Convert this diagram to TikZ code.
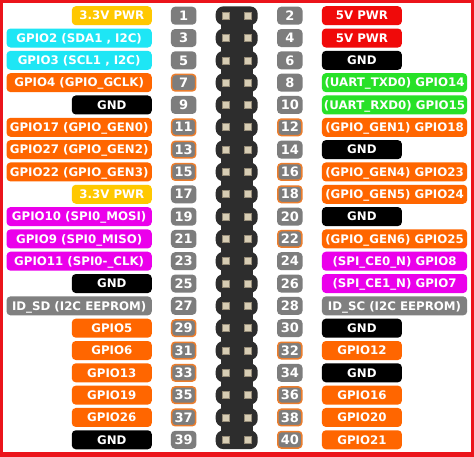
\documentclass[tikz,border=0pt]{standalone}
\usepackage{fontspec}
\setmainfont{DejaVu Sans}
\definecolor{cyel}{RGB}{255,200,0}
\definecolor{cred}{RGB}{240,10,10}
\definecolor{ccyan}{RGB}{30,230,245}
\definecolor{corange}{RGB}{255,102,0}
\definecolor{cgreen}{RGB}{40,225,40}
\definecolor{cmag}{RGB}{235,0,235}
\definecolor{cgray}{RGB}{128,128,128}
\definecolor{cnum}{RGB}{125,125,125}
\definecolor{cbord}{RGB}{235,125,45}
\definecolor{chdr}{RGB}{45,45,45}
\definecolor{cpin}{RGB}{215,205,180}
\definecolor{cpinb}{RGB}{150,140,120}
\definecolor{cframe}{RGB}{235,20,27}
\begin{document}
\begin{tikzpicture}[x=1pt,y=-1pt,
  lab/.style={rounded corners=4pt, minimum height=19pt, inner sep=0pt, text=white,
    font=\fontsize{11.8}{12}\selectfont\bfseries, text height=8.6pt, text depth=0pt},
  num/.style={rounded corners=3.5pt, minimum width=24pt, minimum height=16.5pt, inner sep=0pt,
    line width=1.5pt, fill=cnum, text=white,
    font=\fontsize{13}{13}\selectfont\bfseries, text height=9.4pt, text depth=0pt},
  pinsq/.style={minimum size=7pt, inner sep=0pt, fill=cpin, draw=cpinb, line width=0.6pt},
  hdr/.style={fill=chdr}]
\useasboundingbox (0,0) rectangle (474,457);
% frame
\fill[cframe] (0,0) rectangle (474,457);
\fill[white] (2.6,2.6) rectangle (471.4,452.3);
% header
\fill[hdr] (220.7,15.7) rectangle (252.7,439.8);
\foreach \i in {1,...,20}{
  \pgfmathsetmacro\yy{15.7+22.32*(\i-1)}
  \fill[hdr,rounded corners=7.5pt] (215.7,\yy-9.3) rectangle (257.7,\yy+9.3);
}
\foreach \i in {1,...,20}{
  \pgfmathsetmacro\yy{15.7+22.32*(\i-1)}
  \node[pinsq] (PA\i) at (226,\yy) {};
  \node[pinsq] (PB\i) at (247.7,\yy) {};
}
% left side (odd pins)
\foreach \i/\n/\t/\c/\w/\bc in {
  1/1/{3.3V PWR}/cyel/80/cnum,
  2/3/{GPIO2 (SDA1 , I2C)}/ccyan/145.3/cnum,
  3/5/{GPIO3 (SCL1 , I2C)}/ccyan/145.3/cnum,
  4/7/{GPIO4 (GPIO\_GCLK)}/corange/145.3/cbord,
  5/9/{GND}/black/80/cnum,
  6/11/{GPIO17 (GPIO\_GEN0)}/corange/145.3/cbord,
  7/13/{GPIO27 (GPIO\_GEN2)}/corange/145.3/cbord,
  8/15/{GPIO22 (GPIO\_GEN3)}/corange/145.3/cbord,
  9/17/{3.3V PWR}/cyel/80/cnum,
  10/19/{GPIO10 (SPI0\_MOSI)}/cmag/145.3/cnum,
  11/21/{GPIO9 (SPI0\_MISO)}/cmag/145.3/cnum,
  12/23/{GPIO11 (SPI0-\_CLK)}/cmag/145.3/cnum,
  13/25/{GND}/black/80/cnum,
  14/27/{ID\_SD (I2C EEPROM)}/cgray/145.3/cnum,
  15/29/{GPIO5}/corange/80/cbord,
  16/31/{GPIO6}/corange/80/cbord,
  17/33/{GPIO13}/corange/80/cbord,
  18/35/{GPIO19}/corange/80/cbord,
  19/37/{GPIO26}/corange/80/cbord,
  20/39/{GND}/black/80/cnum}{
  \pgfmathsetmacro\yy{15.7+22.32*(\i-1)}
  \node[lab, fill=\c, minimum width=\w pt, anchor=east] (L\n) at (152,\yy) {\t};
  \node[num, draw=\bc] (N\n) at (183.7,\yy) {\n};
}
% right side (even pins)
\foreach \i/\n/\t/\c/\w/\bc in {
  1/2/{5V PWR}/cred/80/cnum,
  2/4/{5V PWR}/cred/80/cnum,
  3/6/{GND}/black/80/cnum,
  4/8/{(UART\_TXD0) GPIO14}/cgreen/145.3/cnum,
  5/10/{(UART\_RXD0) GPIO15}/cgreen/145.3/cnum,
  6/12/{(GPIO\_GEN1) GPIO18}/corange/145.3/cbord,
  7/14/{GND}/black/80/cnum,
  8/16/{(GPIO\_GEN4) GPIO23}/corange/145.3/cbord,
  9/18/{(GPIO\_GEN5) GPIO24}/corange/145.3/cbord,
  10/20/{GND}/black/80/cnum,
  11/22/{(GPIO\_GEN6) GPIO25}/corange/145.3/cbord,
  12/24/{(SPI\_CE0\_N) GPIO8}/cmag/145.3/cnum,
  13/26/{(SPI\_CE1\_N) GPIO7}/cmag/145.3/cnum,
  14/28/{ID\_SC (I2C EEPROM)}/cgray/145.3/cnum,
  15/30/{GND}/black/80/cnum,
  16/32/{GPIO12}/corange/80/cbord,
  17/34/{GND}/black/80/cnum,
  18/36/{GPIO16}/corange/80/cbord,
  19/38/{GPIO20}/corange/80/cbord,
  20/40/{GPIO21}/corange/80/cbord}{
  \pgfmathsetmacro\yy{15.7+22.32*(\i-1)}
  \node[lab, fill=\c, minimum width=\w pt, anchor=west] (R\n) at (321.7,\yy) {\t};
  \node[num, draw=\bc] (N\n) at (289.8,\yy) {\n};
}
\end{tikzpicture}
\end{document}
